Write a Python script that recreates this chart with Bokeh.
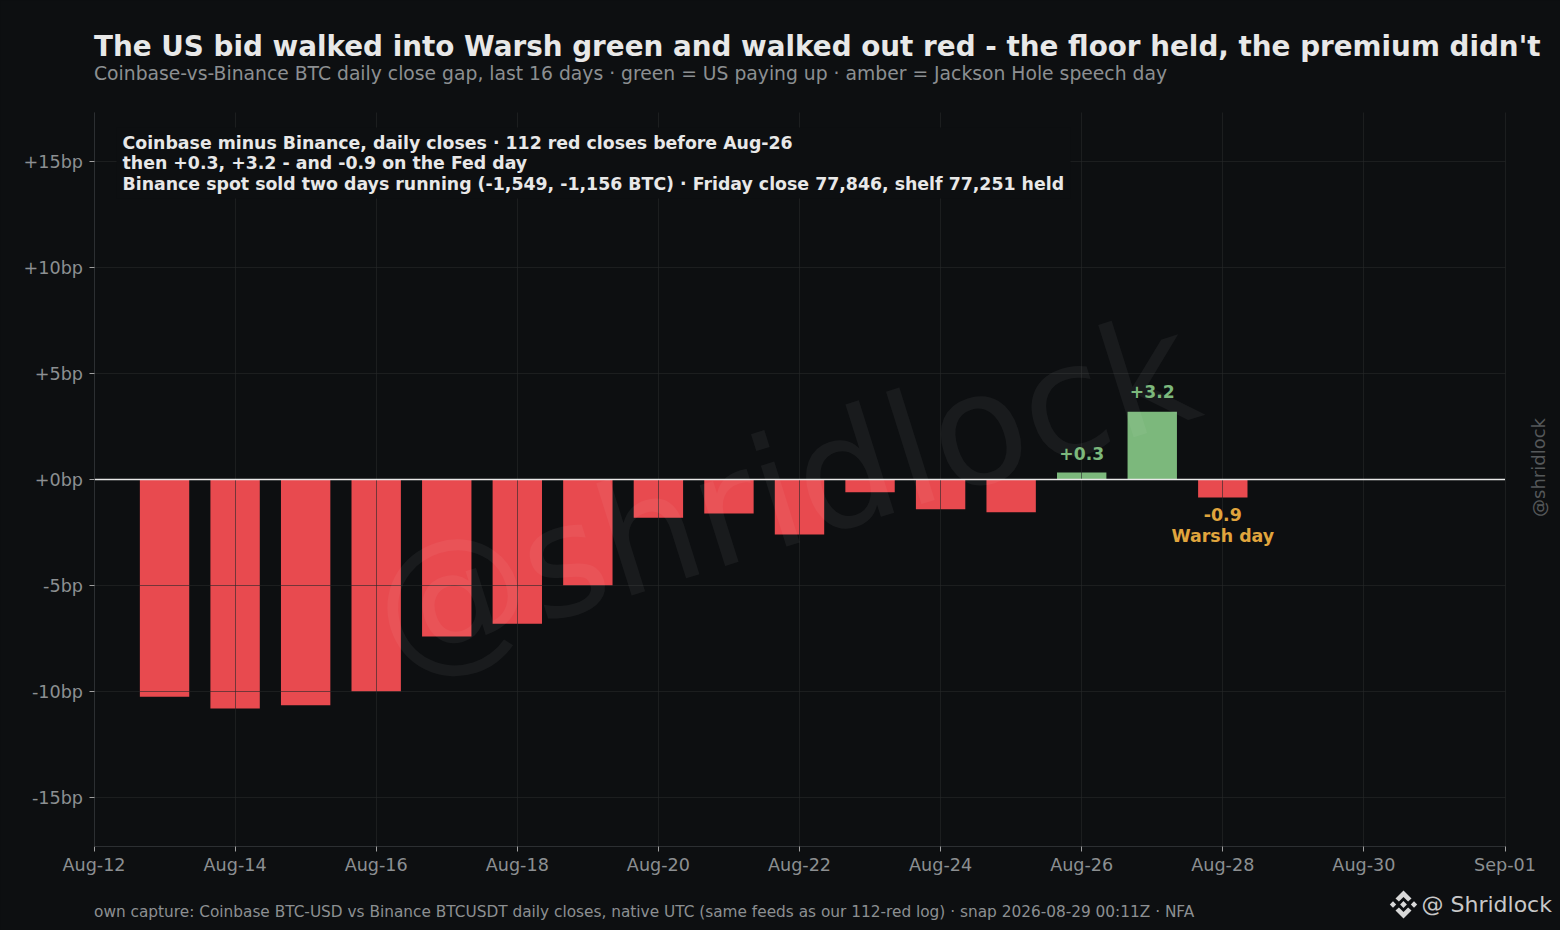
from datetime import datetime
from bokeh.plotting import figure
from bokeh.models import (Label, BoxAnnotation, PolyAnnotation, Range1d, FixedTicker, Grid, LinearAxis, DatetimeAxis,
                          DatetimeTickFormatter, ColumnDataSource)
from bokeh.core.properties import value
from bokeh.embed import file_html
from bokeh.resources import INLINE

dates = ["2026-08-13","2026-08-14","2026-08-15","2026-08-16","2026-08-17","2026-08-18","2026-08-19","2026-08-20",
         "2026-08-21","2026-08-22","2026-08-23","2026-08-24","2026-08-25","2026-08-26","2026-08-27","2026-08-28"]
gap_bp = [-10.25,-10.8,-10.65,-10.0,-7.4,-6.8,-5.0,-1.8,-1.6,-2.6,-0.6,-1.4,-1.55,0.33,3.2,-0.85]
x_ticks = ["2026-08-12","2026-08-14","2026-08-16","2026-08-18","2026-08-20","2026-08-22","2026-08-24",
           "2026-08-26","2026-08-28","2026-08-30","2026-09-01"]
y_ticks = [-15,-10,-5,0,5,10,15]
y_tick_labels = ["-15bp","-10bp","-5bp","+0bp","+5bp","+10bp","+15bp"]
green_dates = ["2026-08-26","2026-08-27"]
green_vals = [0.3,3.2]
green_labels = ["+0.3","+3.2"]
TITLE = "The US bid walked into Warsh green and walked out red - the floor held, the premium didn't"
SUBTITLE = "Coinbase-vs-Binance BTC daily close gap, last 16 days · green = US paying up · amber = Jackson Hole speech day"
NOTES = ["Coinbase minus Binance, daily closes · 112 red closes before Aug-26",
         "then +0.3, +3.2 - and -0.9 on the Fed day",
         "Binance spot sold two days running (-1,549, -1,156 BTC) · Friday close 77,846, shelf 77,251 held"]
FOOTER = "own capture: Coinbase BTC-USD vs Binance BTCUSDT daily closes, native UTC (same feeds as our 112-red log) · snap 2026-08-29 00:11Z · NFA"

BG = "#0d0f11"; RED = "#e84a4f"; GREEN = "#7cb87c"; AMBER = "#e0a53d"; FONT = value("DejaVu Sans")
W, H = 1560, 930
def ms(s): return (datetime.strptime(s, "%Y-%m-%d") - datetime(1970,1,1)).total_seconds()*1000
DAY = 86400000
X0, X1 = ms("2026-08-12"), ms("2026-09-01")
Y0, Y1 = -17.3, 17.33
# the frame fills the canvas; the plot area is kept in place by these ranges
left_px, right_px = 93.5, 1504.5
px_day = (right_px-left_px)/20.0; px_bp = 21.2; y_zero = 479.0
x_range = Range1d(X0 - left_px/px_day*DAY, X1 + (W-right_px)/px_day*DAY)
y_range = Range1d(-(H-y_zero)/px_bp, y_zero/px_bp)

p = figure(width=W, height=H, output_backend="svg", toolbar_location=None, x_axis_type=None, y_axis_type=None,
           x_range=x_range, y_range=y_range, min_border=0,
           background_fill_color=BG, border_fill_color=BG, outline_line_color=None)

src = ColumnDataSource(dict(x=[ms(s) for s in dates], top=gap_bp, c=[RED if v < 0 else GREEN for v in gap_bp]))
p.vbar(x="x", top="top", bottom=0, width=0.7*DAY, fill_color="c", line_color=None, source=src, level="image")

xt = FixedTicker(ticks=[ms(s) for s in x_ticks]); yt = FixedTicker(ticks=y_ticks)
xax = DatetimeAxis(ticker=xt, fixed_location=Y0, bounds=(X0, X1),
                   formatter=DatetimeTickFormatter(days="%b-%d", months="%b-%d", hours="%b-%d", years="%b-%d"))
yax = LinearAxis(ticker=yt, fixed_location=X0, bounds=(Y0, Y1), major_label_overrides=dict(zip(y_ticks, y_tick_labels)))
for ax in (xax, yax):
    ax.axis_line_color = "#2c2f32"; ax.axis_line_width = 1
    ax.major_tick_line_color = "#a0a0a0"; ax.major_tick_line_width = 1
    ax.major_tick_out = 5; ax.major_tick_in = 0; ax.minor_tick_line_color = None
    ax.major_label_text_color = "#8c8f92"; ax.major_label_text_font = "DejaVu Sans"
    ax.major_label_text_font_size = "17.6px"
xax.major_label_standoff = 4; yax.major_label_standoff = 6
p.add_layout(xax, "below"); p.add_layout(yax, "left")
for dim, tk, cb in ((0, xt, (Y0, Y1)), (1, yt, (X0, X1))):
    p.add_layout(Grid(dimension=dim, ticker=tk, cross_bounds=cb, grid_line_color="#26282a", grid_line_alpha=0.6,
                      grid_line_width=1, level="underlay"))

def scr(x, y, text, **kw):
    kw.setdefault("text_font", "DejaVu Sans")
    p.add_layout(Label(x=x, y=H-y, x_units="screen", y_units="screen", text=text, **kw))

# watermark
scr(783, 491, "@shridlock", text_font_size="155px", text_color="#ffffff", text_alpha=0.05, angle=17.5, angle_units="deg",
    text_align="center", text_baseline="middle", level="underlay")

p.segment(x0=[X0], y0=[0], x1=[X1], y1=[0], line_color="#e8e8e8", line_width=1.5, level="glyph")

# annotation box
p.add_layout(BoxAnnotation(left=116, right=1070, top=H-127, bottom=H-198, left_units="screen", right_units="screen",
                           top_units="screen", bottom_units="screen", fill_color=BG, fill_alpha=1, line_color=None))
for y, t in zip([142, 162, 183], NOTES):
    scr(122, y, t, text_font_size="17.35px", text_font_style="bold", text_color="#e8e8e8", text_baseline="middle")

# value labels
p.text(x=[ms(s) for s in green_dates], y=green_vals, text=green_labels, text_color=GREEN, text_font=FONT,
       text_font_size="17.2px", text_font_style="bold", text_align="center", text_baseline="bottom", y_offset=-13.5)
p.text(x=[ms("2026-08-28")], y=[-0.9], text=["-0.9"], text_color=AMBER, text_font=FONT,
       text_font_size="17.4px", text_font_style="bold", text_align="center", text_baseline="top", y_offset=9.5)
p.text(x=[ms("2026-08-28")], y=[-0.9], text=["Warsh day"], text_color=AMBER, text_font=FONT,
       text_font_size="17.4px", text_font_style="bold", text_align="center", text_baseline="top", y_offset=27)

# titles and footer
scr(93.5, 46, TITLE, text_font_size="27.8px", text_font_style="bold", text_color="#e8e8e8", text_baseline="middle")
scr(93.5, 73, SUBTITLE, text_font_size="18.75px", text_color="#8c8f92", text_baseline="middle")
scr(93.5, 911, FOOTER, text_font_size="15.34px", text_color="#8c8f92", text_baseline="middle")
scr(1537.5, 467, "@shridlock", text_font_size="18px", text_color="#55585a", angle=90, angle_units="deg",
    text_align="center", text_baseline="middle")
scr(1421, 904, "@ Shridlock", text_font_size="22px", text_color="#c8c8c8", text_baseline="middle")

# logo
cx, cy = 1403, H-904
shapes = [
    [(0,14),(8,6),(4.6,3),(0,7.4),(-4.6,3),(-8,6)],
    [(0,-14),(8,-6),(4.6,-3),(0,-7.4),(-4.6,-3),(-8,-6)],
    [(0,-3.4),(3.4,0),(0,3.4),(-3.4,0)],
    [(10.5,-3.2),(13.7,0),(10.5,3.2),(7.3,0)],
    [(-10.5,-3.2),(-7.3,0),(-10.5,3.2),(-13.7,0)],
]
for s in shapes:
    p.add_layout(PolyAnnotation(xs=[cx+a for a, b in s], ys=[cy+b for a, b in s], xs_units="screen", ys_units="screen",
                                fill_color="#d8d8d8", fill_alpha=1, line_color=None))

html = file_html(p, INLINE).replace("<head>", "<head><style>html,body{background:%s;}</style>" % BG, 1)
open("out.html", "w").write(html)
